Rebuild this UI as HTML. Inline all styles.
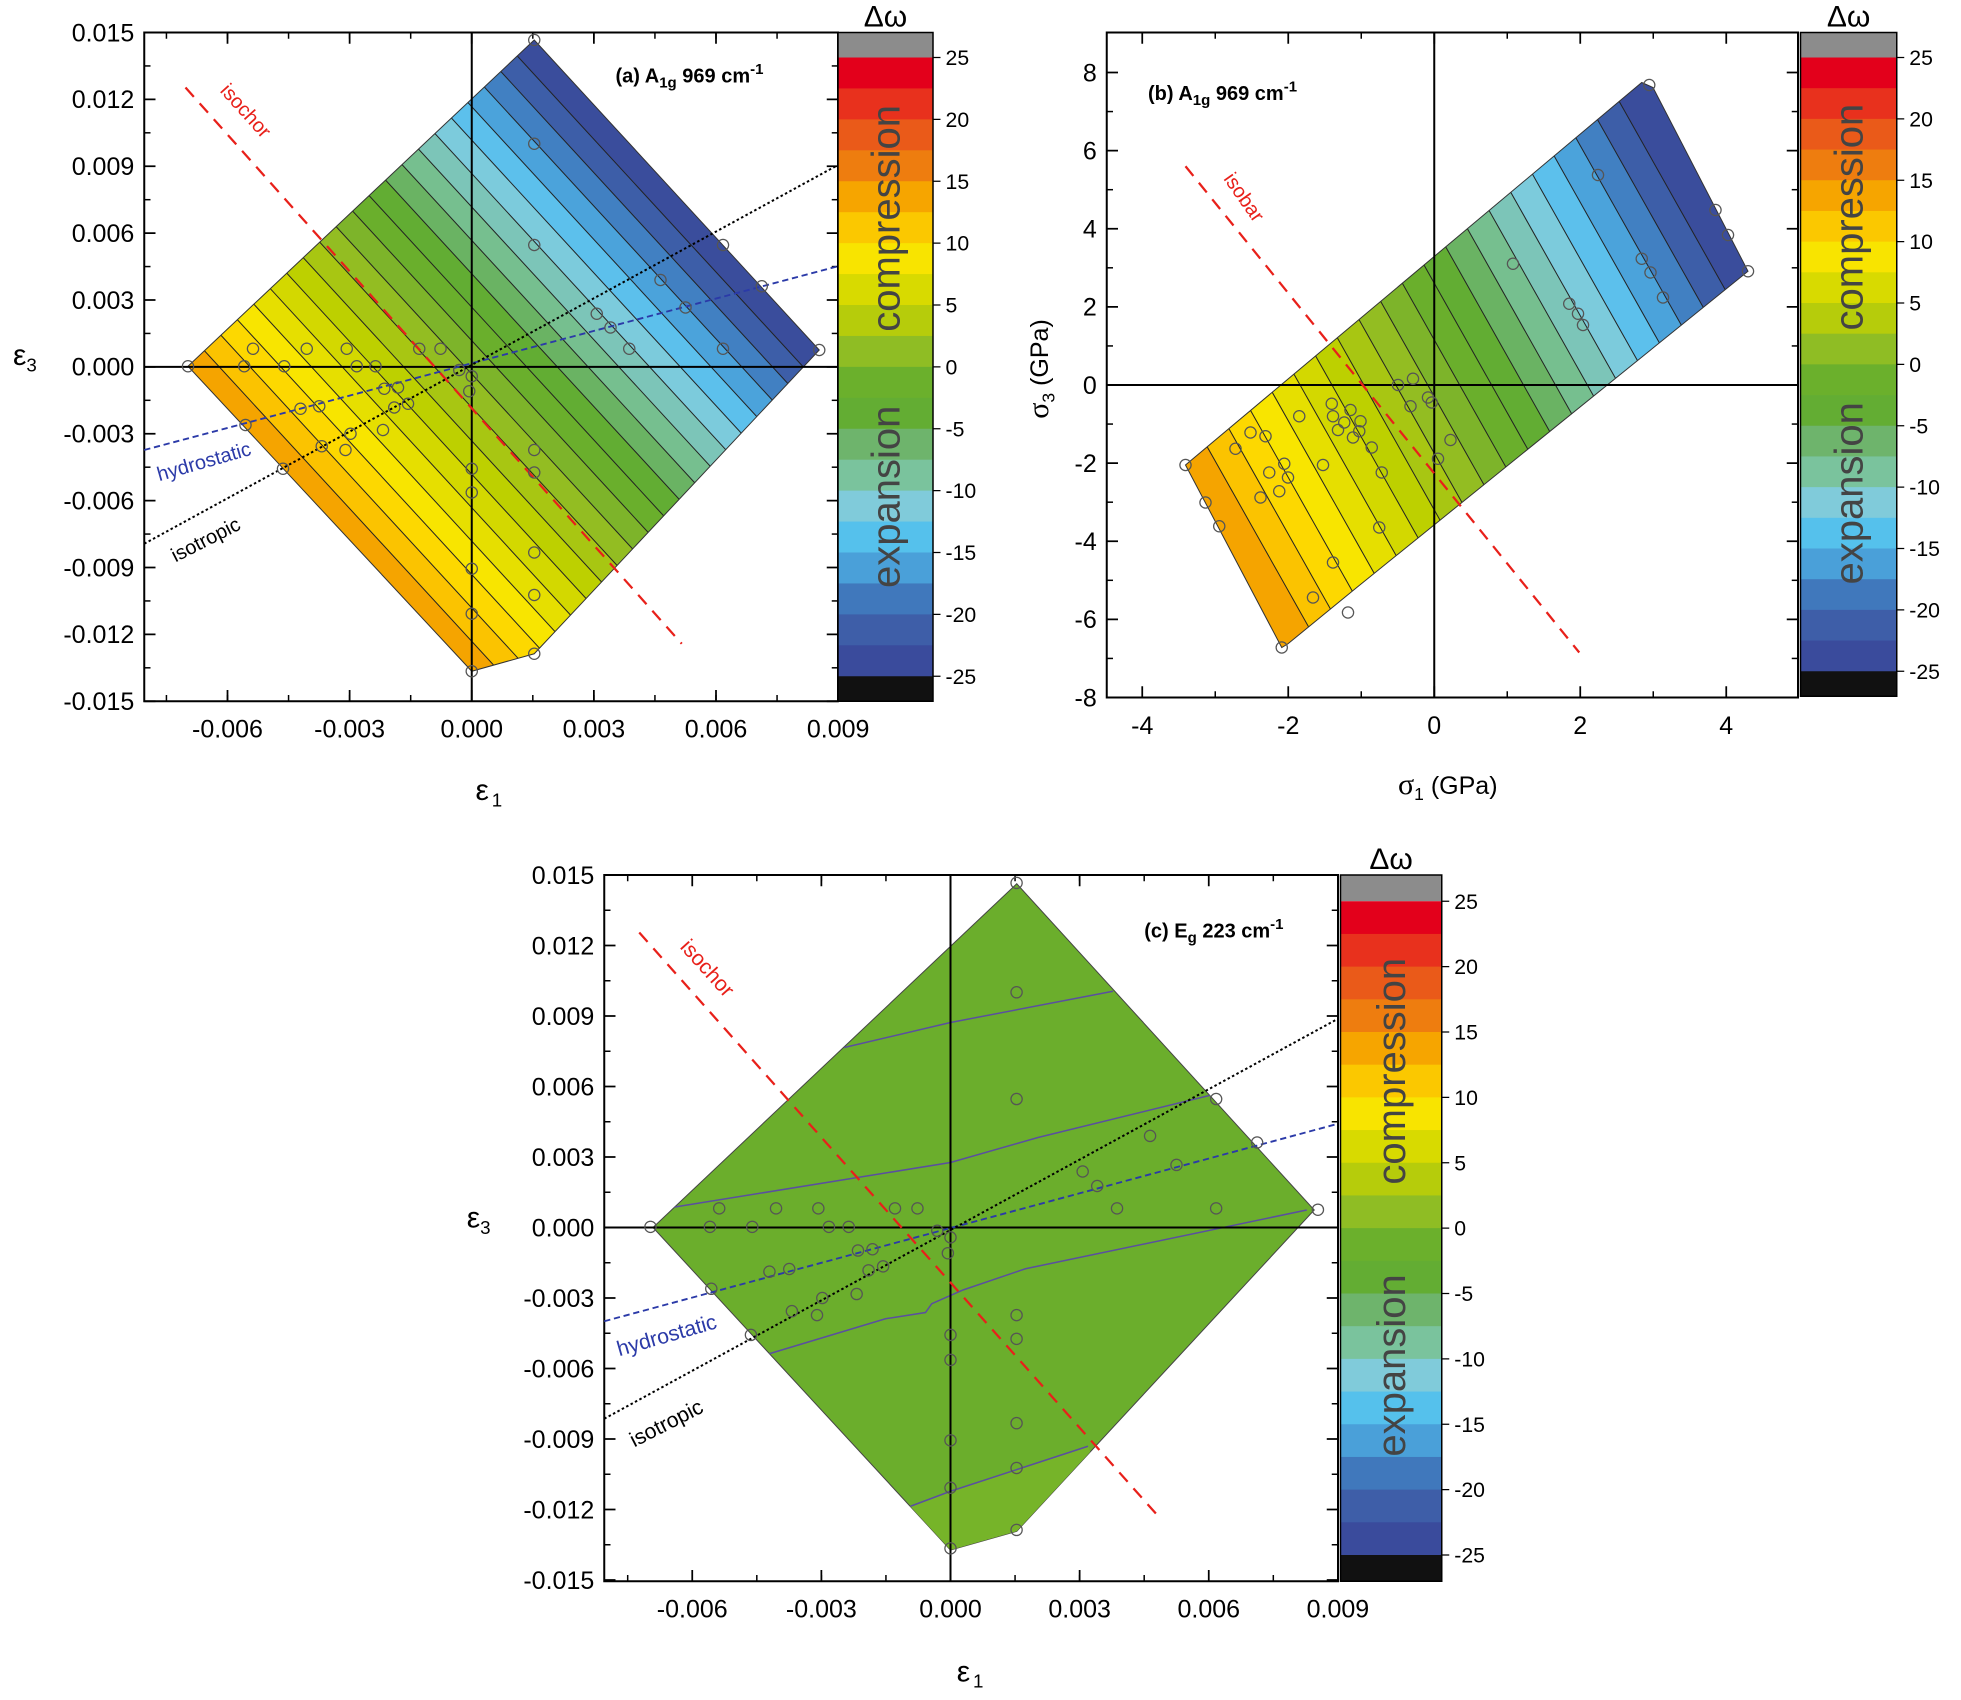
<!DOCTYPE html>
<html><head><meta charset="utf-8"><style>
html,body{margin:0;padding:0;background:#fff;width:1961px;height:1700px;overflow:hidden;}
svg{display:block}
text{font-family:"Liberation Sans",Arial,sans-serif;}
</style></head><body>
<svg id="s" width="1961" height="1700" viewBox="0 0 1568 1360" xmlns="http://www.w3.org/2000/svg"><defs id="defs"></defs></svg>
<script>
const S=document.getElementById('s');const D=document.getElementById('defs');const NS='http://www.w3.org/2000/svg';
function el(t,a,p){const e=document.createElementNS(NS,t);for(const k in a)e.setAttribute(k,a[k]);(p||S).appendChild(e);return e;}
function txt(x,y,s,a){const e=el('text',Object.assign({x:x,y:y},a||{}));e.textContent=s;return e;}
const cbColors=['#e3001b','#e8311d','#ea5a19','#ee7d0f','#f6a500','#fbc800','#f8e400','#d8da00','#b6cc0b','#8fbd24','#6bb02c','#63ad33','#6eb46c','#7ac39d','#80cbda','#55c1ec','#4aa0d9','#4078bc','#3e5ea8','#3a4b9c'];
const stripeColors=['#f5a400','#fbc300','#fdd800','#f8e500','#e6df00','#d3d800','#bdd000','#a8c612','#93bd22','#7db42a','#6aaf2c','#62ad33','#6ab363','#76bf8f','#7cc5b8','#7ccbdc','#5cc0ec','#4ba3db','#4180c2','#3d5ea8','#3a4d9c'];
let cid=0;
function stripes(poly,P0,n,w,cols){
  const id='c'+(cid++);const N=cols.length;const tot=w*N;
  const gr=el('linearGradient',{id:'g'+id,gradientUnits:'userSpaceOnUse',x1:P0[0],y1:P0[1],x2:P0[0]+n[0]*tot,y2:P0[1]+n[1]*tot},D);
  for(let i=0;i<N;i++){el('stop',{offset:i/N,'stop-color':cols[i]},gr);el('stop',{offset:(i+1)/N,'stop-color':cols[i]},gr);}
  const cp=el('clipPath',{id:id},D);el('polygon',{points:poly.map(p=>p.join(',')).join(' ')},cp);
  el('polygon',{points:poly.map(p=>p.join(',')).join(' '),fill:'url(#g'+id+')'});
  const g=el('g',{'clip-path':'url(#'+id+')'});const d=[-n[1],n[0]];const L=500;
  for(let i=1;i<N;i++){const t=i*w;const a=[P0[0]+n[0]*t,P0[1]+n[1]*t];
    el('line',{x1:a[0]-d[0]*L,y1:a[1]-d[1]*L,x2:a[0]+d[0]*L,y2:a[1]+d[1]*L,stroke:'#222','stroke-width':0.8},g);}
  el('polygon',{points:poly.map(p=>p.join(',')).join(' '),fill:'none',stroke:'#333','stroke-width':0.8});
}
function axes(x0,y0,x1,y1,xt,yt,xm,ym){
  el('rect',{x:x0,y:y0,width:x1-x0,height:y1-y0,fill:'none',stroke:'#000','stroke-width':1.6});
  for(const [p,l] of xt){el('line',{x1:p,y1:y1,x2:p,y2:y1-9,stroke:'#000','stroke-width':1.4});el('line',{x1:p,y1:y0,x2:p,y2:y0+9,stroke:'#000','stroke-width':1.4});txt(p,y1+29,l,{'font-size':20,'text-anchor':'middle'});}
  for(const p of xm){el('line',{x1:p,y1:y1,x2:p,y2:y1-5,stroke:'#000','stroke-width':1.2});el('line',{x1:p,y1:y0,x2:p,y2:y0+5,stroke:'#000','stroke-width':1.2});}
  for(const [p,l] of yt){el('line',{x1:x0,y1:p,x2:x0+9,y2:p,stroke:'#000','stroke-width':1.4});el('line',{x1:x1,y1:p,x2:x1-9,y2:p,stroke:'#000','stroke-width':1.4});txt(x0-8,p+7,l,{'font-size':20,'text-anchor':'end'});}
  for(const p of ym){el('line',{x1:x0,y1:p,x2:x0+5,y2:p,stroke:'#000','stroke-width':1.2});el('line',{x1:x1,y1:p,x2:x1-5,y2:p,stroke:'#000','stroke-width':1.2});}
}
function cbar(x0,x1,yT,yB,y25,ym25){
  const h=(ym25-y25)/20;
  el('rect',{x:x0,y:yT,width:x1-x0,height:y25-yT,fill:'#8c8c8c'});
  for(let i=0;i<20;i++)el('rect',{x:x0,y:y25+i*h,width:x1-x0,height:h+0.5,fill:cbColors[i]});
  el('rect',{x:x0,y:ym25,width:x1-x0,height:yB-ym25,fill:'#111'});
  el('rect',{x:x0,y:yT,width:x1-x0,height:yB-yT,fill:'none',stroke:'#000','stroke-width':1.2});
  for(let v=25,i=0;v>=-25;v-=5,i++){const y=y25+i*2*h;el('line',{x1:x1,y1:y,x2:x1+6,y2:y,stroke:'#000'});txt(x1+10,y+6,String(v),{'font-size':17});}
  txt((x0+x1)/2,yT-5,'Δω',{'font-size':24,'text-anchor':'middle','font-family':'Liberation Serif,serif'});
  const cx=(x0+x1)/2+11;const mid=(y25+ym25)/2;
  txt(cx,y25+(mid-y25)*0.52,'compression',{'font-size':32,fill:'#444','text-anchor':'middle',transform:`rotate(-90 ${cx} ${y25+(mid-y25)*0.52})`});
  txt(cx,mid+(ym25-mid)*0.42,'expansion',{'font-size':32,fill:'#444','text-anchor':'middle',transform:`rotate(-90 ${cx} ${mid+(ym25-mid)*0.42})`});
}
function circ(pts,f){for(const p of pts){const q=f?f(p):p;el('circle',{cx:q[0],cy:q[1],r:4.5,fill:'none',stroke:'#555','stroke-width':1});}}
function ln(x1,y1,x2,y2,c,da,w){el('line',{x1,y1,x2,y2,stroke:c,'stroke-dasharray':da,'stroke-width':w||1.6});}
function rtxt(x,y,s,ang,c,fs){txt(x,y,s,{'font-size':fs||16,fill:c,transform:`rotate(${ang} ${x} ${y})`});}
function title(x,y,a,sub,b){const t=txt(x,y,'',{'font-size':16,'font-weight':'bold'});t.innerHTML=a+'<tspan font-size="12" dy="4">'+sub+'</tspan><tspan dy="-4">'+b+'</tspan><tspan font-size="12" dy="-7">-1</tspan>';}

const ptsA=[[150,293],[195,293],[202,279],[227,293],[245,279],[226,375],[277,279],[285,293],[300,293],[276,360],[280,347],[257,357],[240,327],[255,325],[307,311],[306,344],[315,326],[326,323],[318,310],[335,279],[352,279],[367,296],[377,301],[375,313],[377,375],[377,394],[377,455],[377,491],[377,537],[427,32],[427,115],[427,196],[427,360],[427,378],[427,442],[427,476],[427,523],[477,251],[488,262],[503,279],[528,224],[548,246],[578,196],[578,279],[609,229],[655,280],[196,340]];
(function(){
 const poly=[[150,293],[427,32],[655,280],[427,523],[377,537]];
 stripes(poly,[150,293],[0.736,-0.677],380/21,stripeColors);
 const xs=[-0.006,-0.003,0,0.003,0.006,0.009],xl=['-0.006','-0.003','0.000','0.003','0.006','0.009'];
 const X=v=>377+v/0.003*97.7,Y=v=>293.5-v/0.003*53.5;
 const xm=[];for(let v=-0.0075;v<0.009;v+=0.0015)xm.push(X(v));
 const ym=[];for(let v=-0.0135;v<0.015;v+=0.003)ym.push(Y(v));
 const yl=[];for(let i=-5;i<=5;i++){const v=i*0.003;yl.push([Y(v),(v<0?'-':'')+Math.abs(v).toFixed(3)]);}
 axes(115,26,670,561,xs.map((v,i)=>[X(v),xl[i]]),yl,xm,ym);
 ln(377,26,377,561,'#000',null,1.6);ln(115,293.5,670,293.5,'#000',null,1.6);
 ln(148,70,545,515,'#e8201a','10 7',1.8);ln(115,360,670,213,'#2b3aa8','5 3',1.5);ln(115,435,670,132,'#000','2 2',1.6);
 rtxt(175,73,'isochor',48,'#e8201a');rtxt(127,385,'hydrostatic',-16,'#2b3aa8');rtxt(140,450,'isotropic',-27,'#000');
 circ(ptsA);
 title(492,66,'(a) A','1g',' 969 cm');
 cbar(670,746,26,561,46,541);
 txt(380,640,'ε',{'font-size':24,'font-family':'Liberation Serif,serif'});txt(393,645,'1',{'font-size':15,'font-family':'Liberation Serif,serif'});
 const g=el('g',{transform:'rotate(-90 22 292)'});const a=txt(10,292,'',{'font-size':24,'font-family':'Liberation Serif,serif'},g);a.innerHTML='ε<tspan font-size="15" dy="5">3</tspan>';
})();

(function(){
 const poly=[[948,372],[1313,66],[1322,70],[1398,217],[1085,470],[1030,515],[1025,518]];
 stripes(poly,[948,372],[0.87,-0.49],468/21,stripeColors);
 const X=v=>1147+v*58.4,Y=v=>308-v*31.25;
 const xt=[-4,-2,0,2,4].map(v=>[X(v),String(v)]);const xm=[-3,-1,1,3].map(X);
 const yt=[-8,-6,-4,-2,0,2,4,6,8].map(v=>[Y(v),String(v)]);const ym=[-7,-5,-3,-1,1,3,5,7].map(Y);
 axes(885,26,1438,558,xt,yt,xm,ym);
 ln(1147,26,1147,558,'#000',null,1.6);ln(885,308,1438,308,'#000',null,1.6);
 ln(948,133,1263,522,'#e8201a','10 7',1.8);rtxt(978,143,'isobar',55,'#e8201a');
 circ([[948,372],[964,402],[975,421],[988,359],[1000,346],[1012,349],[1008,398],[1015,378],[1027,371],[1030,382],[1023,393],[1025,518],[1078,490],[1039,333],[1058,372],[1065,323],[1066,333],[1070,344],[1075,338],[1080,328],[1082,350],[1087,345],[1050,478],[1066,450],[1088,337],[1097,358],[1105,378],[1103,422],[1118,308],[1128,325],[1130,303],[1142,318],[1145,322],[1150,367],[1160,352],[1210,211],[1255,243],[1262,251],[1266,260],[1278,140],[1313,207],[1320,218],[1330,238],[1319,68],[1372,168],[1382,188],[1398,217]]);
 title(918,80,'(b) A','1g',' 969 cm');
 cbar(1440,1517,26,557,46,537);
 const t2=txt(1118,635,'',{'font-size':20});t2.innerHTML='<tspan font-family="Liberation Serif,serif" font-size="24">σ</tspan><tspan font-size="14" dy="5">1</tspan><tspan dy="-5"> (GPa)</tspan>';
 const t3=txt(838,335,'',{'font-size':20,transform:'rotate(-90 838 335)'});t3.innerHTML='<tspan font-family="Liberation Serif,serif" font-size="24">σ</tspan><tspan font-size="14" dy="5">3</tspan><tspan dy="-5"> (GPa)</tspan>';
})();

(function(){
 const poly=[[522,982],[813,707],[1051,968],[813,1225],[760,1240]];
 const cp=el('clipPath',{id:'cc'},D);el('polygon',{points:poly.map(p=>p.join(',')).join(' ')},cp);
 el('polygon',{points:poly.map(p=>p.join(',')).join(' '),fill:'#6bae2c',stroke:'#444','stroke-width':0.8});
 const g=el('g',{'clip-path':'url(#cc)'});
 el('polygon',{points:'700,1215 760,1193 870,1157 900,1230 700,1250',fill:'#76b429'},g);
 const pl=s=>el('polyline',{points:s,fill:'none',stroke:'#5a4fa0','stroke-width':1.2},g);
 pl('675,838 760,818 890,793');pl('537,966 760,930 830,910 985,872');
 pl('615,1083 708,1055 740,1050 745,1043 770,1032 820,1015 1045,968');pl('728,1205 760,1193 870,1157');
 const X=v=>760+v/0.003*103.3,Y=v=>982-v/0.003*56.4;
 const xs=[-0.006,-0.003,0,0.003,0.006,0.009],xl=['-0.006','-0.003','0.000','0.003','0.006','0.009'];
 const xm=[];for(let v=-0.0075;v<0.009;v+=0.0015)xm.push(X(v));
 const ym=[];for(let v=-0.0135;v<0.015;v+=0.003)ym.push(Y(v));
 const yl=[];for(let i=-5;i<=5;i++){const v=i*0.003;yl.push([Y(v),(v<0?'-':'')+Math.abs(v).toFixed(3)]);}
 axes(483,700,1070,1265,xs.map((v,i)=>[X(v),xl[i]]),yl,xm,ym);
 ln(760,700,760,1265,'#000',null,1.6);ln(483,982,1070,982,'#000',null,1.6);
 ln(511,746,928,1215,'#e8201a','10 7',1.8);ln(483,1057,1070,899,'#2b3aa8','5 3',1.5);ln(483,1135,1070,815,'#000','2 2',1.6);
 rtxt(543,758,'isochor',48,'#e8201a',17);rtxt(495,1085,'hydrostatic',-16,'#2b3aa8',17);rtxt(507,1158,'isotropic',-27,'#000',17);
 circ(ptsA,p=>[760+(p[0]-377)*(103.3/97.7),982+(p[1]-293.5)*(56.4/53.5)]);
 title(915,750,'(c) E','g',' 223 cm');
 cbar(1072,1153,700,1265,721,1244);
 txt(765,1345,'ε',{'font-size':24,'font-family':'Liberation Serif,serif'});txt(778,1350,'1',{'font-size':15,'font-family':'Liberation Serif,serif'});
 const g2=el('g',{transform:'rotate(-90 385 982)'});const a=txt(373,982,'',{'font-size':24,'font-family':'Liberation Serif,serif'},g2);a.innerHTML='ε<tspan font-size="15" dy="5">3</tspan>';
})();
</script>
</body></html>
